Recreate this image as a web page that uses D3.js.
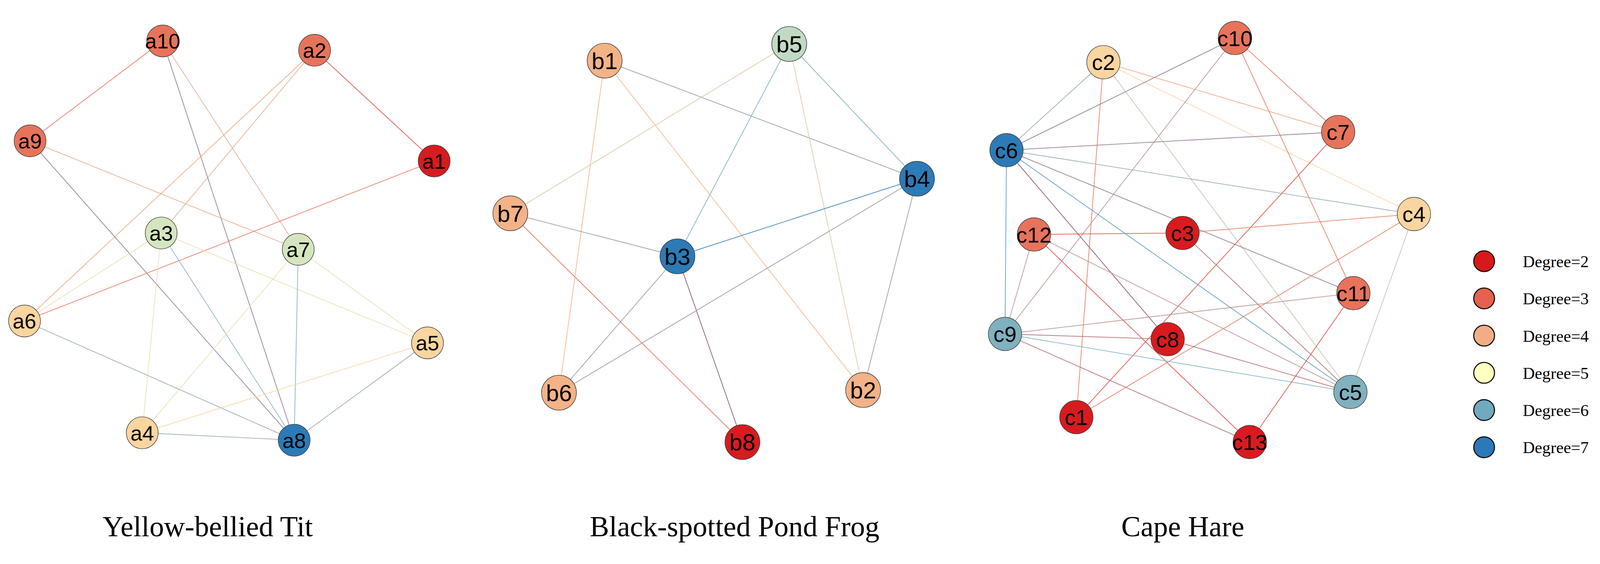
<!DOCTYPE html>
<html>
<head>
<meta charset="utf-8">
<script src="https://cdn.jsdelivr.net/npm/d3@7"></script>
<style>
  html, body { margin: 0; padding: 0; background: #fff; overflow: hidden; }
  #chart svg { display: block; width: 100vw; height: 100vh; }
</style>
</head>
<body>
<div id="chart"></div>
<script>
// node layout: [id, x, y, degree class used for colour]
const nodesA = [
  ['a1', 1169, 396, 2], ['a2', 847, 98, 3], ['a3', 434, 590, 5], ['a4', 383, 1128, 4],
  ['a5', 1151, 886, 4], ['a6', 66, 827, 4], ['a7', 803, 634, 5], ['a8', 792, 1148, 7],
  ['a9', 81, 342, 3], ['a10', 438, 73, 3]
];
const edgesA = [
  ['a10', 'a9'], ['a10', 'a8'], ['a10', 'a7'], ['a2', 'a1'], ['a2', 'a6'], ['a2', 'a3'],
  ['a9', 'a7'], ['a9', 'a8'], ['a1', 'a6'], ['a3', 'a6'], ['a3', 'a4'], ['a3', 'a8'],
  ['a3', 'a5'], ['a7', 'a4'], ['a7', 'a8'], ['a7', 'a5'], ['a6', 'a8'], ['a4', 'a5'],
  ['a4', 'a8'], ['a5', 'a8']
];

const nodesB = [
  ['b1', 378, 126, 4], ['b2', 1074, 1013, 4], ['b3', 574, 653, 7], ['b4', 1219, 444, 7],
  ['b5', 875, 81, 5], ['b6', 255, 1020, 4], ['b7', 124, 537, 4], ['b8', 749, 1153, 2]
];
const edgesB = [
  ['b1', 'b4'], ['b1', 'b6'], ['b1', 'b2'], ['b5', 'b7'], ['b5', 'b3'], ['b5', 'b4'],
  ['b5', 'b2'], ['b7', 'b3'], ['b7', 'b8'], ['b3', 'b4'], ['b3', 'b6'], ['b3', 'b8'],
  ['b4', 'b6'], ['b4', 'b2']
];

const nodesC = [
  ['c1', 398, 1086, 2], ['c2', 471, 130, 4], ['c3', 684, 590, 2], ['c4', 1307, 539, 4],
  ['c5', 1136, 1018, 6], ['c6', 210, 367, 7], ['c7', 1103, 318, 3], ['c8', 644, 876, 2],
  ['c9', 206, 862, 6], ['c10', 825, 65, 3], ['c11', 1144, 752, 3], ['c12', 284, 594, 3],
  ['c13', 865, 1153, 2]
];
const edgesC = [
  ['c2', 'c6'], ['c2', 'c1'], ['c2', 'c7'], ['c2', 'c4'], ['c2', 'c5'],
  ['c10', 'c6'], ['c10', 'c9'], ['c10', 'c7'], ['c10', 'c11'],
  ['c6', 'c7'], ['c6', 'c4'], ['c6', 'c11'], ['c6', 'c8'], ['c6', 'c5'], ['c6', 'c9'],
  ['c7', 'c1'], ['c12', 'c3'], ['c12', 'c13'], ['c12', 'c5'], ['c12', 'c9'],
  ['c3', 'c4'], ['c3', 'c5'], ['c4', 'c1'], ['c4', 'c5'],
  ['c11', 'c9'], ['c11', 'c13'], ['c9', 'c8'], ['c9', 'c5'], ['c9', 'c13'], ['c8', 'c5']
];

const titles = ['Yellow-bellied Tit', 'Black-spotted Pond Frog', 'Cape Hare'];
const legendDegrees = [2, 3, 4, 5, 6, 7];

// colours
const legendColors = ['#d7191c', '#e4624f', '#f1ae86', '#ffffc0', '#71a9c1', '#2c79b9'];
const nodeColorsA = ['#d81b1e', '#e8735b', '#fad59f', '#d5e6bf', '#80b1bf', '#2c7bb6'];
const nodeColorsB = ['#d81b1e', '#e8735b', '#f3b387', '#c0dac3', '#80b1bf', '#2c7bb6'];
const nodeColorsC = ['#d81b1e', '#e8735b', '#fad59f', '#d5e6bf', '#80b1bf', '#2c7bb6'];

const W = 4308, H = 1444;

// viewBox keeps the whole figure inside the window whatever its css size
const svg = d3.select('#chart').append('svg')
  .attr('viewBox', `0 0 ${W} ${H}`)
  .attr('preserveAspectRatio', 'xMidYMid meet')
  .style('background', '#fff');

const panels = [
  { nodes: nodesA, edges: edgesA, colors: nodeColorsA, left: 0, r: 43, font: 57, titleX: 276 },
  { nodes: nodesB, edges: edgesB, colors: nodeColorsB, left: 1250, r: 47, font: 63, titleX: 1588 },
  { nodes: nodesC, edges: edgesC, colors: nodeColorsC, left: 2500, r: 45, font: 59, titleX: 3019 }
];

panels.forEach((p, i) => {
  const x = d3.scaleLinear().domain([0, 1300]).range([p.left, p.left + 1300]);
  const y = d3.scaleLinear().domain([0, 1300]).range([0, 1300]);
  const color = d3.scaleOrdinal().domain(legendDegrees).range(p.colors);

  const byId = new Map(p.nodes.map(n => [n[0], n]));
  const g = svg.append('g').attr('class', 'panel');

  // edges: colour is the mix of the two end nodes
  g.append('g').selectAll('line')
    .data(p.edges)
    .join('line')
      .attr('x1', d => x(byId.get(d[0])[1]))
      .attr('y1', d => y(byId.get(d[0])[2]))
      .attr('x2', d => x(byId.get(d[1])[1]))
      .attr('y2', d => y(byId.get(d[1])[2]))
      .attr('stroke', d => d3.interpolateRgb(color(byId.get(d[0])[3]), color(byId.get(d[1])[3]))(0.5))
      .attr('stroke-width', 2.2)
      .attr('stroke-opacity', 0.8);

  const node = g.append('g').selectAll('g')
    .data(p.nodes)
    .join('g')
      .attr('transform', d => `translate(${x(d[1])},${y(d[2])})`);

  node.append('circle')
    .attr('r', p.r)
    .attr('fill', d => color(d[3]))
    .attr('stroke', '#3a3a3a')
    .attr('stroke-width', 1.5);

  node.append('text')
    .text(d => d[0])
    .attr('text-anchor', 'middle')
    .attr('dy', '0.36em')
    .style('font-family', '"Liberation Sans", Arial, sans-serif')
    .style('font-size', p.font + 'px')
    .style('fill', '#000');

  svg.append('text')
    .attr('x', p.titleX)
    .attr('y', 1407)
    .text(titles[i])
    .style('font-family', '"Liberation Serif", "Times New Roman", serif')
    .style('font-size', '78px')
    .style('fill', '#000');
});

// legend
const ly = d3.scalePoint().domain(legendDegrees).range([666, 1167]);
const lcolor = d3.scaleOrdinal().domain(legendDegrees).range(legendColors);

const legend = svg.append('g').selectAll('g')
  .data(legendDegrees)
  .join('g')
    .attr('transform', d => `translate(3996,${ly(d)})`);

legend.append('circle')
  .attr('r', 28)
  .attr('fill', d => lcolor(d))
  .attr('stroke', '#111')
  .attr('stroke-width', 3);

legend.append('text')
  .attr('x', 104)
  .attr('y', 16)
  .text(d => `Degree=${d}`)
  .style('font-family', '"Liberation Serif", "Times New Roman", serif')
  .style('font-size', '45px')
  .style('fill', '#000');
</script>
</body>
</html>
